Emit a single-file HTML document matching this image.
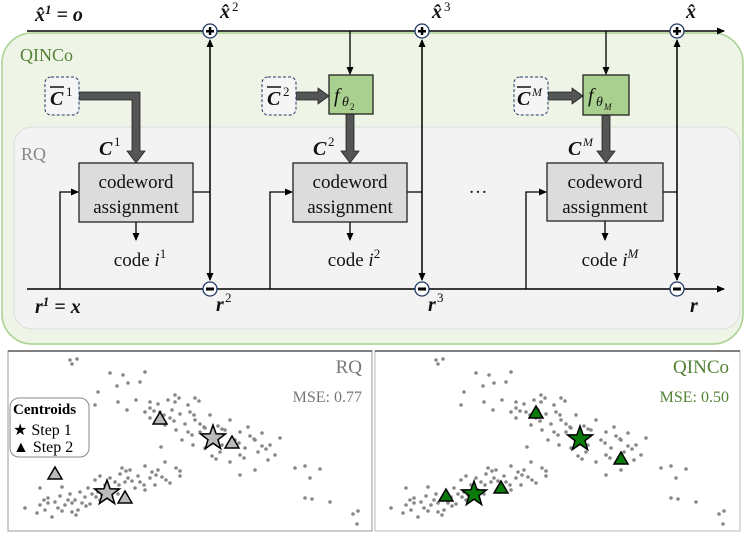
<!DOCTYPE html>
<html><head><meta charset="utf-8"><style>
body{margin:0;background:#fff}
svg{display:block;font-family:"Liberation Serif",serif}
.m{font-style:italic;font-weight:bold}
</style></head><body>
<svg width="748" height="537" viewBox="0 0 748 537" xmlns="http://www.w3.org/2000/svg">
<defs>
<marker id="a" markerWidth="8" markerHeight="8" refX="7" refY="4" orient="auto" markerUnits="userSpaceOnUse"><path d="M0,0.5 L8,4 L0,7.5z" fill="#000"/></marker>
<g id="pts" fill="#888">
<circle cx="70" cy="360" r="1.8"/><circle cx="77" cy="359" r="1.8"/><circle cx="72" cy="364" r="1.8"/><circle cx="110" cy="373" r="1.8"/><circle cx="123" cy="375" r="1.8"/><circle cx="145" cy="372" r="1.8"/><circle cx="98" cy="392" r="1.8"/><circle cx="117" cy="386" r="1.8"/><circle cx="128" cy="383" r="1.8"/><circle cx="140" cy="382" r="1.8"/><circle cx="95" cy="405" r="1.8"/><circle cx="118" cy="402" r="1.8"/><circle cx="127" cy="410" r="1.8"/><circle cx="136" cy="400" r="1.8"/>
<circle cx="150" cy="402" r="1.8"/><circle cx="158" cy="404" r="1.8"/><circle cx="168" cy="400" r="1.8"/><circle cx="175" cy="402" r="1.8"/><circle cx="188" cy="405" r="1.8"/><circle cx="145" cy="412" r="1.8"/><circle cx="150" cy="418" r="1.8"/><circle cx="172" cy="410" r="1.8"/><circle cx="180" cy="414" r="1.8"/><circle cx="195" cy="420" r="1.8"/><circle cx="185" cy="424" r="1.8"/><circle cx="176" cy="430" r="1.8"/><circle cx="182" cy="440" r="1.8"/><circle cx="161" cy="447" r="1.8"/><circle cx="200" cy="432" r="1.8"/><circle cx="205" cy="428" r="1.8"/><circle cx="193" cy="445" r="1.8"/><circle cx="205" cy="448" r="1.8"/><circle cx="220" cy="452" r="1.8"/><circle cx="225" cy="430" r="1.8"/><circle cx="240" cy="432" r="1.8"/><circle cx="248" cy="427" r="1.8"/><circle cx="255" cy="440" r="1.8"/><circle cx="262" cy="433" r="1.8"/><circle cx="245" cy="448" r="1.8"/><circle cx="258" cy="452" r="1.8"/><circle cx="270" cy="445" r="1.8"/><circle cx="275" cy="455" r="1.8"/><circle cx="268" cy="460" r="1.8"/><circle cx="230" cy="462" r="1.8"/><circle cx="255" cy="470" r="1.8"/><circle cx="240" cy="475" r="1.8"/><circle cx="215" cy="438" r="1.8"/><circle cx="165" cy="425" r="1.8"/><circle cx="210" cy="415" r="1.8"/><circle cx="230" cy="420" r="1.8"/><circle cx="222" cy="445" r="1.8"/><circle cx="280" cy="438" r="1.8"/>
<circle cx="295" cy="468" r="1.8"/><circle cx="305" cy="466" r="1.8"/><circle cx="310" cy="478" r="1.8"/><circle cx="320" cy="469" r="1.8"/><circle cx="305" cy="498" r="1.8"/><circle cx="312" cy="499" r="1.8"/><circle cx="330" cy="502" r="1.8"/><circle cx="353" cy="514" r="1.8"/><circle cx="358" cy="511" r="1.8"/><circle cx="357" cy="524" r="1.8"/>
<circle cx="25" cy="508" r="1.8"/><circle cx="37" cy="513" r="1.8"/><circle cx="40" cy="505" r="1.8"/><circle cx="45" cy="510" r="1.8"/><circle cx="48" cy="498" r="1.8"/><circle cx="55" cy="502" r="1.8"/><circle cx="60" cy="496" r="1.8"/><circle cx="65" cy="505" r="1.8"/><circle cx="70" cy="494" r="1.8"/><circle cx="75" cy="500" r="1.8"/><circle cx="80" cy="492" r="1.8"/><circle cx="85" cy="497" r="1.8"/><circle cx="88" cy="488" r="1.8"/><circle cx="62" cy="487" r="1.8"/><circle cx="90" cy="504" r="1.8"/><circle cx="95" cy="480" r="1.8"/><circle cx="100" cy="476" r="1.8"/><circle cx="110" cy="478" r="1.8"/><circle cx="120" cy="474" r="1.8"/><circle cx="125" cy="482" r="1.8"/><circle cx="130" cy="470" r="1.8"/><circle cx="138" cy="476" r="1.8"/><circle cx="145" cy="466" r="1.8"/><circle cx="150" cy="478" r="1.8"/><circle cx="158" cy="470" r="1.8"/><circle cx="165" cy="462" r="1.8"/><circle cx="170" cy="483" r="1.8"/><circle cx="180" cy="476" r="1.8"/><circle cx="135" cy="488" r="1.8"/><circle cx="145" cy="490" r="1.8"/><circle cx="112" cy="490" r="1.8"/><circle cx="100" cy="500" r="1.8"/><circle cx="78" cy="510" r="1.8"/><circle cx="52" cy="517" r="1.8"/><circle cx="118" cy="494" r="1.8"/><circle cx="155" cy="485" r="1.8"/><circle cx="40" cy="488" r="1.8"/>
</g>
<g id="dense" fill="#888">
<circle cx="150" cy="408" r="1.8"/><circle cx="160" cy="412" r="1.8"/><circle cx="170" cy="418" r="1.8"/><circle cx="190" cy="412" r="1.8"/><circle cx="200" cy="424" r="1.8"/><circle cx="188" cy="432" r="1.8"/><circle cx="218" cy="426" r="1.8"/><circle cx="235" cy="440" r="1.8"/><circle cx="250" cy="436" r="1.8"/><circle cx="262" cy="446" r="1.8"/><circle cx="240" cy="455" r="1.8"/><circle cx="212" cy="456" r="1.8"/><circle cx="58" cy="508" r="1.8"/><circle cx="68" cy="500" r="1.8"/><circle cx="82" cy="503" r="1.8"/><circle cx="92" cy="494" r="1.8"/><circle cx="105" cy="485" r="1.8"/><circle cx="115" cy="482" r="1.8"/><circle cx="128" cy="478" r="1.8"/><circle cx="140" cy="482" r="1.8"/><circle cx="152" cy="472" r="1.8"/><circle cx="162" cy="477" r="1.8"/><circle cx="72" cy="512" r="1.8"/><circle cx="44" cy="500" r="1.8"/><circle cx="122" cy="468" r="1.8"/><circle cx="98" cy="492" r="1.8"/><circle cx="176" cy="468" r="1.8"/><circle cx="175" cy="395" r="1.8"/><circle cx="195" cy="398" r="1.8"/>
</g>
</defs>
<rect x="2" y="33" width="741" height="311" rx="30" fill="#eef5e6" stroke="#a9d08e" stroke-width="1.5"/>
<rect x="14" y="127" width="726" height="202" rx="18" fill="#f3f3f3" stroke="#ddd"/>
<text x="20" y="61" font-size="18" fill="#548235">QINCo</text>
<text x="21" y="160" font-size="18" fill="#888">RQ</text>
<line x1="27" y1="31" x2="724" y2="31" stroke="#000" stroke-width="1.5" marker-end="url(#a)"/>
<line x1="27" y1="289" x2="724" y2="289" stroke="#000" stroke-width="1.5" marker-end="url(#a)"/>
<g stroke="#000" stroke-width="1.3" fill="none">
<line x1="210" y1="280" x2="210" y2="40" marker-end="url(#a)"/><line x1="210" y1="45" x2="210" y2="280" marker-end="url(#a)"/>
<line x1="422" y1="280" x2="422" y2="40" marker-end="url(#a)"/><line x1="422" y1="45" x2="422" y2="280" marker-end="url(#a)"/>
<line x1="677" y1="280" x2="677" y2="40" marker-end="url(#a)"/><line x1="677" y1="45" x2="677" y2="280" marker-end="url(#a)"/>
<path d="M193 192H210M407 192H422M663 192H677"/>
<path d="M60 289V192H78" marker-end="url(#a)"/>
<path d="M270 289V192H292" marker-end="url(#a)"/>
<path d="M526 289V192H546" marker-end="url(#a)"/>
<line x1="350" y1="31" x2="350" y2="74" marker-end="url(#a)"/>
<line x1="606" y1="31" x2="606" y2="74" marker-end="url(#a)"/>
<line x1="136" y1="222" x2="136" y2="240" marker-end="url(#a)"/>
<line x1="350" y1="222" x2="350" y2="240" marker-end="url(#a)"/>
<line x1="605" y1="221" x2="605" y2="240" marker-end="url(#a)"/>
</g>
<g fill="#555" stroke="#222" stroke-width="0.8">
<path d="M79 92H140V151H145L136 163L127 151H132V100H79Z"/>
<path d="M296 92H318V88L329 96L318 104V100H296Z"/>
<path d="M548 92H572V88L583 96L572 104V100H548Z"/>
<path d="M346 114H354V151H359L350 163L341 151H346Z"/>
<path d="M602 115H610V151H615L606 163L597 151H602Z"/>
</g>
<g stroke="#222" stroke-width="1.3">
<rect x="79" y="163" width="114" height="59" fill="#dcdcdc"/>
<rect x="293" y="163" width="114" height="59" fill="#dcdcdc"/>
<rect x="547" y="163" width="116" height="58" fill="#dcdcdc"/>
<rect x="329" y="75" width="44" height="39" fill="#a9d08e"/>
<rect x="583" y="75" width="46" height="40" fill="#a9d08e"/>
</g>
<g fill="#f5f5f5" stroke="#1f3864" stroke-dasharray="3,2" stroke-width="1">
<rect x="45" y="77" width="34" height="38" rx="6"/>
<rect x="262" y="77" width="34" height="38" rx="6"/>
<rect x="514" y="77" width="34" height="38" rx="6"/>
</g>
<g font-size="19" text-anchor="middle" fill="#111">
<text x="136" y="188">codeword</text><text x="136" y="213">assignment</text>
<text x="350" y="188">codeword</text><text x="350" y="213">assignment</text>
<text x="605" y="188">codeword</text><text x="605" y="213">assignment</text>
<text x="140" y="266">code <tspan font-style="italic">i</tspan><tspan font-size="13" dy="-8">1</tspan></text>
<text x="354" y="266">code <tspan font-style="italic">i</tspan><tspan font-size="13" dy="-8">2</tspan></text>
<text x="610" y="266">code <tspan font-style="italic">i</tspan><tspan font-size="13" dy="-8" font-style="italic">M</tspan></text>
<text x="478" y="193">…</text>
</g>
<g font-size="20" fill="#111">
<text x="50" y="105" class="m">C</text><text x="66" y="96" font-size="13">1</text><line x1="50" y1="87" x2="64" y2="87" stroke="#111" stroke-width="1.5"/>
<text x="267" y="105" class="m">C</text><text x="283" y="96" font-size="13">2</text><line x1="267" y1="87" x2="281" y2="87" stroke="#111" stroke-width="1.5"/>
<text x="517" y="105" class="m">C</text><text x="532" y="96" font-size="12" font-style="italic">M</text><line x1="517" y1="87" x2="531" y2="87" stroke="#111" stroke-width="1.5"/>
<text x="334" y="102" font-style="italic">f</text><text x="342" y="106" font-size="14" font-style="italic">θ</text><text x="350" y="110" font-size="9">2</text>
<text x="588" y="102" font-style="italic">f</text><text x="596" y="106" font-size="14" font-style="italic">θ</text><text x="604" y="110" font-size="9" font-style="italic">M</text>
<text x="99" y="155" class="m">C</text><text x="114" y="146" font-size="13">1</text>
<text x="313" y="155" class="m">C</text><text x="328" y="146" font-size="13">2</text>
<text x="568" y="155" class="m">C</text><text x="583" y="146" font-size="12" font-style="italic">M</text>
<text x="35" y="21" class="m">x̂<tspan font-size="13" dy="-7">1</tspan><tspan dy="7"> = o</tspan></text>
<text x="220" y="18" class="m">x̂</text><text x="232" y="11" font-size="13">2</text>
<text x="432" y="18" class="m">x̂</text><text x="444" y="11" font-size="13">3</text>
<text x="686" y="18" class="m">x̂</text>
<text x="35" y="313" class="m">r<tspan font-size="13" dy="-7">1</tspan><tspan dy="7"> = x</tspan></text>
<text x="216" y="311" class="m">r</text><text x="225" y="302" font-size="13">2</text>
<text x="428" y="311" class="m">r</text><text x="437" y="302" font-size="13">3</text>
<text x="690" y="312" class="m">r</text>
</g>
<g stroke="#1f3864" stroke-width="1.3" fill="#fff">
<circle cx="210" cy="31" r="7"/><circle cx="422" cy="31" r="7"/><circle cx="677" cy="31" r="7"/>
<circle cx="210" cy="289" r="7"/><circle cx="422" cy="289" r="7"/><circle cx="677" cy="289" r="7"/>
</g>
<g fill="#000">
<rect x="206" y="30" width="8" height="2.5"/><rect x="208.8" y="27" width="2.5" height="8"/>
<rect x="418" y="30" width="8" height="2.5"/><rect x="420.8" y="27" width="2.5" height="8"/>
<rect x="673" y="30" width="8" height="2.5"/><rect x="675.8" y="27" width="2.5" height="8"/>
<rect x="206" y="287.5" width="8" height="3"/><rect x="418" y="287.5" width="8" height="3"/><rect x="673" y="287.5" width="8" height="3"/>
</g>
<rect x="8" y="351" width="364" height="180" fill="#fff" stroke="#999"/>
<line x1="8" y1="351" x2="372" y2="351" stroke="#000"/>
<rect x="375" y="351" width="365" height="180" fill="#fff" stroke="#bbb"/>
<line x1="375" y1="351" x2="740" y2="351" stroke="#000"/>
<use href="#pts"/>
<use href="#dense"/>
<use href="#dense" transform="translate(4,3)"/>
<use href="#pts" transform="translate(366,0)"/>
<use href="#dense" transform="translate(366,0)"/>
<use href="#dense" transform="translate(370,3)"/>
<text x="362" y="373" font-size="19" fill="#777" text-anchor="end">RQ</text>
<text x="362" y="402" font-size="16" fill="#777" text-anchor="end">MSE: 0.77</text>
<text x="729" y="373" font-size="19" fill="#548235" text-anchor="end">QINCo</text>
<text x="729" y="402" font-size="16" fill="#548235" text-anchor="end">MSE: 0.50</text>
<rect x="10" y="398" width="79" height="59" rx="9" fill="#fff" stroke="#888"/>
<text x="13" y="414" font-size="15" font-weight="bold">Centroids</text>
<text x="13" y="435" font-size="16">★ Step 1</text>
<text x="13" y="452" font-size="16">▲ Step 2</text>
<g stroke="#000" stroke-width="1.5" fill="#bbb">
<path d="M160,412 l7,12 h-14z"/><path d="M232,436 l7,12 h-14z"/><path d="M125,491 l7,12 h-14z"/><path d="M55,467 l7,12 h-14z"/>
<polygon transform="translate(107,493)" points="0,-13 3.1,-4.2 12.4,-4 5,1.6 7.6,10.5 0,5.2 -7.6,10.5 -5,1.6 -12.4,-4 -3.1,-4.2"/>
<polygon transform="translate(213,438)" points="0,-13 3.1,-4.2 12.4,-4 5,1.6 7.6,10.5 0,5.2 -7.6,10.5 -5,1.6 -12.4,-4 -3.1,-4.2"/>
</g>
<g stroke="#000" stroke-width="1.5" fill="#0a7a0a">
<path d="M536,406 l7,12 h-14z"/><path d="M621,452 l7,12 h-14z"/><path d="M446,489 l7,12 h-14z"/><path d="M501,481 l7,12 h-14z"/>
<polygon transform="translate(474,494)" points="0,-13 3.1,-4.2 12.4,-4 5,1.6 7.6,10.5 0,5.2 -7.6,10.5 -5,1.6 -12.4,-4 -3.1,-4.2"/>
<polygon transform="translate(580,439)" points="0,-13 3.1,-4.2 12.4,-4 5,1.6 7.6,10.5 0,5.2 -7.6,10.5 -5,1.6 -12.4,-4 -3.1,-4.2"/>
</g>
</svg>
</body></html>
